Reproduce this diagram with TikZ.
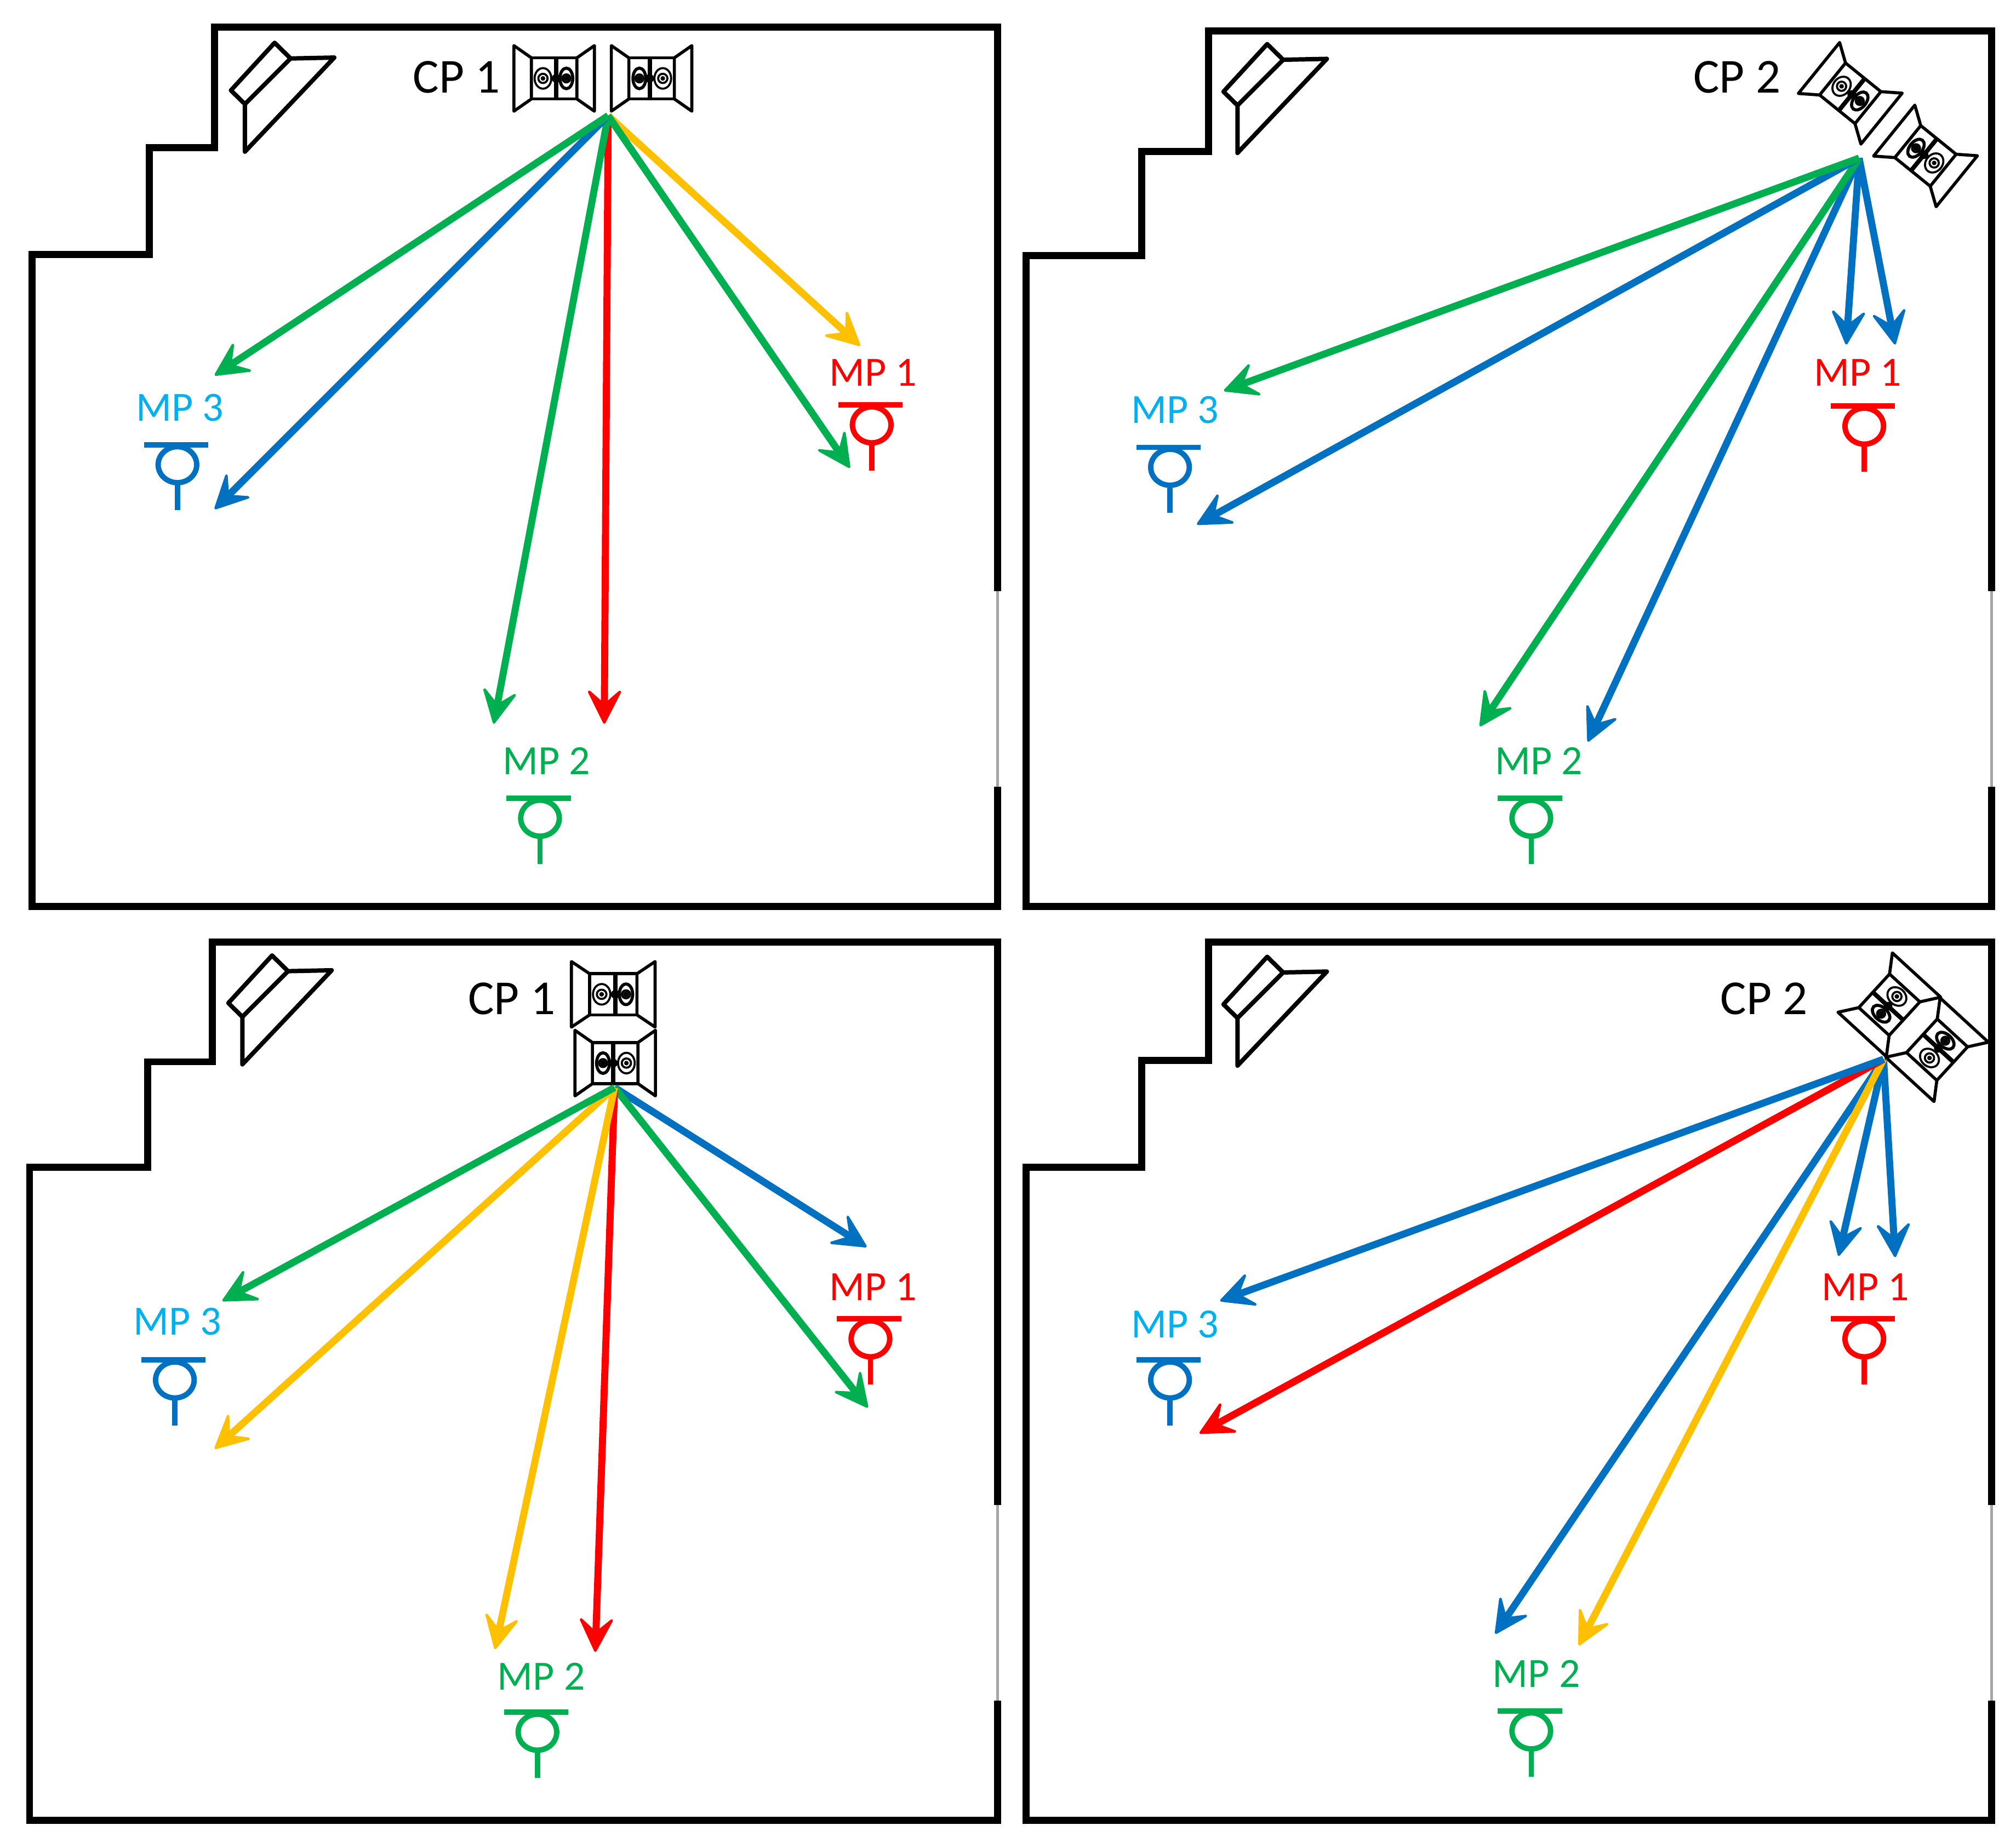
\documentclass[tikz,border=0pt]{standalone}
\usepackage{fontspec}
\setmainfont{Carlito}
\usetikzlibrary{arrows.meta}
\definecolor{cgreen}{HTML}{00B050}
\definecolor{cblue}{HTML}{0070C0}
\definecolor{corange}{HTML}{FFC000}
\definecolor{cred}{HTML}{FF0000}
\definecolor{csky}{HTML}{00B0F0}
\tikzset{
  wall/.style={line width=0.055cm,line join=miter},
  window/.style={line width=0.022cm,draw=black!35},
  ray/.style={line width=0.055cm,-{Stealth[length=0.3cm,width=0.3cm,inset=0.13cm,round,line width=0.02cm]}},
  micline/.style={line width=0.042cm},
  cplabel/.style={font=\fontsize{10.8}{12}\selectfont,text=black,inner sep=0pt},
  mplabel/.style={font=\fontsize{9.2}{11}\selectfont,inner sep=0pt},
  symline/.style={line width=0.024cm,line join=round},
  projline/.style={line width=0.034cm,line join=round}
}
% speaker: centre, rotation, x-scale; mirrored by xs<0
\newcommand{\spk}[4]{%
  \begin{scope}[shift={(#1,#2)},rotate=#3,xscale=#4]
    \draw[symline] (-31.3,-25.5) -- (-31.3,25.5) -- (-17.7,16) -- (-17.7,-16) -- cycle;
    \draw[symline] (31.3,-25.5) -- (31.3,25.5) -- (17.7,16) -- (17.7,-16) -- cycle;
    \draw[symline] (-17.7,-16) -- (17.7,-16) (-17.7,16) -- (17.7,16);
    \draw[line width=0.034cm] (1.5,-16) -- (1.5,16);
    \draw[line width=0.016cm] (-8.7,0) ellipse (6.5 and 8) (-8.7,0) circle (3.6);
    \fill (-8.7,0) circle (1.8);
    \draw[line width=0.024cm] (9.5,0) ellipse (5 and 8);
    \draw[line width=0.018cm] (9.5,0) circle (3);
    \fill (9.5,0) circle (2.2);
    \fill (1.5,0) circle (3.4);
  \end{scope}}
% room walls
\newcommand{\room}[8]{% xl xs1 xs2 xr ytop ystep2 ystep1 ybot
  \draw[window] (#4,#8-245) -- (#4,#8-93);
  \draw[wall] (#4,#8-93) -- (#4,#8) -- (#1,#8) -- (#1,#7) -- (#2,#7) -- (#2,#6) -- (#3,#6) -- (#3,#5) -- (#4,#5) -- (#4,#8-245);
}
\newcommand{\proj}[2]{%
  \begin{scope}[shift={(#1,#2)}]
    \draw[projline] (213.6,33.3) -- (226,45.5) -- (190.5,81) -- (179.6,70.3) -- cycle;
    \draw[projline] (226,45.5) -- (260,44.8) -- (190.5,118) -- (190.5,81);
  \end{scope}}
% microphone: name, x, y, colour
\newcommand{\mic}[4]{%
  \begin{scope}[shift={(#2,#3)}]
    \draw[micline,draw=#4] (-26,-16) -- (24,-16);
    \draw[micline,draw=#4] (0,-0.5) ellipse (15 and 14);
    \draw[micline,draw=#4] (0,13.5) -- (0,35);
    \coordinate (#1) at (0,0);
  \end{scope}}
\begin{document}
\begin{tikzpicture}[x=0.01cm,y=-0.01cm]
\useasboundingbox (0,0) rectangle (1568,1437.6);
\fill[white] (0,0) rectangle (1568,1437.6);

% walls
\room{25}{116}{167}{776}{21}{115}{198}{705}
\room{798}{888}{940}{1549}{24}{118}{199}{705}
\room{23}{115}{165}{776}{733}{826}{908}{1416}
\room{798}{888}{940}{1549}{733}{825}{908}{1416}

% projectors
\proj{0}{0}
\proj{772}{1}
\proj{-2}{710}
\proj{772}{711}

% loudspeakers
\spk{431}{61}{0}{1}
\spk{506.8}{61}{0}{-1}
\spk{1439.1}{72.6}{-39}{1}
\spk{1497.6}{121.3}{-39}{-1}
\spk{477}{773.5}{0}{1.04}
\spk{478.5}{827}{0}{-1}
\spk{1469.5}{781.6}{47.5}{-1}
\spk{1506.6}{816.6}{47.5}{1}

% source labels
\node[cplabel] (cp1) at (355,60) {CP 1};
\node[cplabel] (cp2) at (1351,60) {CP 2};
\node[cplabel] (cp3) at (398,777) {CP 1};
\node[cplabel] (cp4) at (1372,777) {CP 2};

% microphones
\mic{ma1}{678}{331}{cred}
\mic{ma3}{138}{362}{cblue}
\mic{ma2}{420}{637}{cgreen}
\mic{mb1}{1450}{332}{cred}
\mic{mb3}{910}{364}{cblue}
\mic{mb2}{1191}{637}{cgreen}
\mic{mc1}{677}{1042}{cred}
\mic{mc3}{136}{1074}{cblue}
\mic{mc2}{418}{1348}{cgreen}
\mic{md1}{1450}{1042}{cred}
\mic{md3}{910}{1074}{cblue}
\mic{md2}{1191}{1347}{cgreen}

% microphone labels
\node[mplabel,text=cred] (la1) at (679,290) {MP 1};
\node[mplabel,text=csky] (la3) at (140,317) {MP 3};
\node[mplabel,text=cgreen] (la2) at (425,592) {MP 2};
\node[mplabel,text=cred] (lb1) at (1445,290) {MP 1};
\node[mplabel,text=csky] (lb3) at (914,319) {MP 3};
\node[mplabel,text=cgreen] (lb2) at (1197,592) {MP 2};
\node[mplabel,text=cred] (lc1) at (679,1001) {MP 1};
\node[mplabel,text=csky] (lc3) at (138,1028) {MP 3};
\node[mplabel,text=cgreen] (lc2) at (421,1304) {MP 2};
\node[mplabel,text=cred] (ld1) at (1451,1001) {MP 1};
\node[mplabel,text=csky] (ld3) at (914,1030) {MP 3};
\node[mplabel,text=cgreen] (ld2) at (1195,1302) {MP 2};

% ray origins
\coordinate (sa) at (473,90);
\coordinate (sb) at (1446,123);
\coordinate (sc) at (478,846);
\coordinate (sd) at (1465,824);

% ray ends, panel 1
\coordinate (a1) at (167,292);
\coordinate (a2) at (167,396);
\coordinate (a3) at (384,563);
\coordinate (a4) at (470,563);
\coordinate (a5) at (661,364);
\coordinate (a6) at (669,269);
% panel 2
\coordinate (b1) at (952,304);
\coordinate (b2) at (931,408);
\coordinate (b3) at (1151,565);
\coordinate (b4) at (1235,577);
\coordinate (b5) at (1436,268);
\coordinate (b6) at (1474,268);
% panel 3
\coordinate (c1) at (173,1012);
\coordinate (c2) at (167,1127);
\coordinate (c3) at (385,1283);
\coordinate (c4) at (463,1285);
\coordinate (c5) at (675,1095);
\coordinate (c6) at (674,970);
% panel 4
\coordinate (d1) at (949,1012);
\coordinate (d2) at (933,1115);
\coordinate (d3) at (1163,1271);
\coordinate (d4) at (1228,1280);
\coordinate (d5) at (1430,977);
\coordinate (d6) at (1474,978);

% rays
\draw[ray,cred] (sa) -- (a4);
\draw[ray,corange] (sa) -- (a6);
\draw[ray,cgreen] (sa) -- (a5);
\draw[ray,cgreen] (sa) -- (a3);
\draw[ray,cblue] (sa) -- (a2);
\draw[ray,cgreen] (sa) -- (a1);

\draw[ray,cblue] (sb) -- (b6);
\draw[ray,cblue] (sb) -- (b5);
\draw[ray,cblue] (sb) -- (b4);
\draw[ray,cgreen] (sb) -- (b3);
\draw[ray,cblue] (sb) -- (b2);
\draw[ray,cgreen] (sb) -- (b1);

\draw[ray,cblue] (sc) -- (c6);
\draw[ray,cgreen] (sc) -- (c5);
\draw[ray,cred] (sc) -- (c4);
\draw[ray,corange] (sc) -- (c3);
\draw[ray,corange] (sc) -- (c2);
\draw[ray,cgreen] (sc) -- (c1);

\draw[ray,cblue] (sd) -- (d6);
\draw[ray,cblue] (sd) -- (d5);
\draw[ray,cblue] (sd) -- (d3);
\draw[ray,corange] (sd) -- (d4);
\draw[ray,cred] (sd) -- (d2);
\draw[ray,cblue] (sd) -- (d1);
\end{tikzpicture}
\end{document}
